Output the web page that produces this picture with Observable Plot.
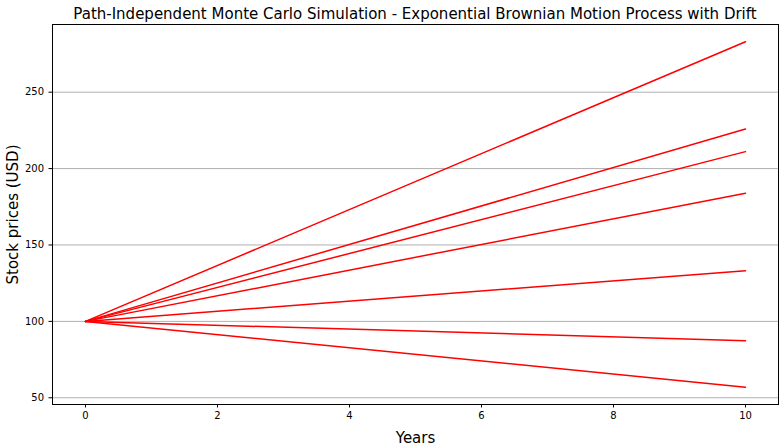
<!DOCTYPE html>
<html>
<head>
<meta charset="utf-8">
<script src="https://cdn.jsdelivr.net/npm/d3@7"></script>
<script src="https://cdn.jsdelivr.net/npm/@observablehq/plot@0.6"></script>
<style>
  html, body { margin: 0; padding: 0; background: #fff; }
  #title { height: 23px; width: 726px; margin-left: 52px; text-align: center;
    font-family: "DejaVu Sans", sans-serif; font-size: 15px; line-height: 28px; color: #000; white-space: nowrap; }
  svg { display: block; }
</style>
</head>
<body>
<div id="title">Path-Independent Monte Carlo Simulation - Exponential Brownian Motion Process with Drift</div>
<div id="chart"></div>
<script>
const years = [0, 10];
const startPrice = 100;
const endPrices = [283.0, 225.9, 211.1, 183.9, 133.1, 87.3, 56.9];
const xTicks = [0, 2, 4, 6, 8, 10];
const yTicks = [50, 100, 150, 200, 250];
const xLabel = "Years";
const yLabel = "Stock prices (USD)";

const rows = [];
endPrices.forEach((p, i) => {
  rows.push({path: i, t: years[0], price: startPrice});
  rows.push({path: i, t: years[1], price: p});
});

const font = "DejaVu Sans, sans-serif";
const plot = Plot.plot({
  width: 784,
  height: 424,
  marginTop: 1,
  marginLeft: 52,
  marginRight: 6,
  marginBottom: 43,
  style: {fontFamily: font, fontSize: "10px", color: "#000", background: "#fff"},
  x: {domain: [-0.5, 10.5], ticks: xTicks, tickSize: 3.5, tickPadding: 4, label: null},
  y: {domain: [45.6, 294.3], ticks: yTicks, tickSize: 3.5, tickPadding: 5, label: null},
  marks: [
    Plot.gridY(yTicks, {stroke: "#b0b0b0", strokeOpacity: 1, strokeWidth: 1}),
    Plot.line(rows, {x: "t", y: "price", z: "path", stroke: "red", strokeWidth: 1.5}),
    Plot.axisX({ticks: xTicks, tickSize: 3.5, tickPadding: 4, label: null, fontSize: 10}),
    Plot.axisY({ticks: yTicks, tickSize: 3.5, tickPadding: 5, label: null, fontSize: 10}),
    Plot.frame({stroke: "#000", strokeWidth: 1}),
    Plot.text([xLabel], {frameAnchor: "bottom", text: d => d, dy: 28, fontSize: 15, textAnchor: "middle", lineAnchor: "top", fill: "#000"}),
    Plot.text([yLabel], {frameAnchor: "left", text: d => d, dx: -39, rotate: -90, fontSize: 15, textAnchor: "middle", lineAnchor: "middle", fill: "#000"})
  ]
});
document.getElementById("chart").appendChild(plot);
</script>
</body>
</html>
